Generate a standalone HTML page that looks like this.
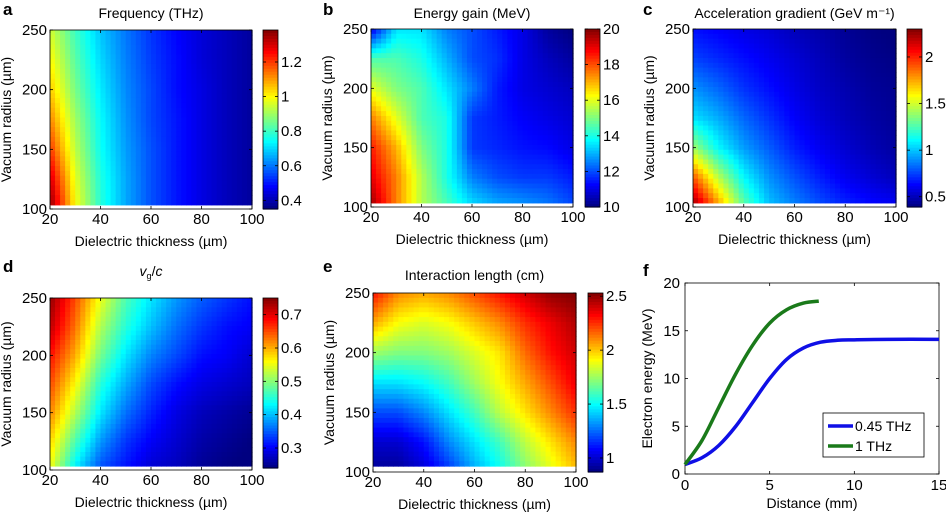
<!DOCTYPE html>
<html><head><meta charset="utf-8"><style>
body{margin:0;background:#fff;}
svg{display:block;font-family:"Liberation Sans",sans-serif;}
</style></head><body>
<svg id="fig" width="946" height="513" viewBox="0 0 946 513" xmlns="http://www.w3.org/2000/svg"></svg>
<script>
// ---- data ----
const xCats = [20,30,40,50,60,70,80,90,100];
const yCats = [250,225,200,175,150,125,100];
const freqVals = [
 [0.95,0.8,0.68,0.6,0.53,0.48,0.44,0.41,0.38],
 [1.0,0.83,0.7,0.61,0.54,0.49,0.44,0.41,0.38],
 [1.05,0.86,0.72,0.62,0.55,0.49,0.45,0.41,0.38],
 [1.12,0.9,0.74,0.63,0.55,0.5,0.45,0.41,0.38],
 [1.2,0.93,0.75,0.64,0.56,0.5,0.45,0.41,0.38],
 [1.3,0.97,0.77,0.65,0.56,0.5,0.45,0.41,0.38],
 [1.38,1.0,0.78,0.65,0.56,0.5,0.45,0.41,0.38]];
const gainVals = [
 [11,13.5,13.5,12.5,12,11.5,11,10.3,10],
 [14.5,14.5,14,13,12,11.7,11,10.6,10.3],
 [16,15,14.5,13.5,12.5,11.5,11,10.8,10.6],
 [17.5,16,14.5,14,11.8,11.5,11.2,11,10.8],
 [18.5,17,15,14,11.8,11.6,11.4,11.3,11],
 [19,17.5,15.5,14,12.5,12,11.8,11.8,11.5],
 [19.8,17.5,15.5,14.5,13.5,13,12.8,12.5,12]];
const gradVals = [
 [0.65,0.62,0.58,0.55,0.5,0.47,0.43,0.4,0.38],
 [0.75,0.7,0.65,0.6,0.55,0.5,0.45,0.42,0.4],
 [0.9,0.82,0.72,0.65,0.58,0.52,0.48,0.44,0.42],
 [1.05,0.95,0.82,0.72,0.62,0.55,0.5,0.46,0.43],
 [1.4,1.1,0.92,0.8,0.68,0.6,0.54,0.49,0.45],
 [1.9,1.45,1.1,0.9,0.78,0.68,0.6,0.55,0.5],
 [2.3,1.8,1.3,1.0,0.88,0.78,0.7,0.65,0.62]];
const vgVals = [
 [0.74,0.65,0.55,0.47,0.42,0.38,0.35,0.33,0.31],
 [0.72,0.63,0.52,0.45,0.4,0.36,0.33,0.31,0.3],
 [0.68,0.6,0.49,0.42,0.37,0.34,0.31,0.3,0.28],
 [0.65,0.56,0.45,0.39,0.34,0.31,0.29,0.28,0.27],
 [0.62,0.52,0.42,0.36,0.32,0.29,0.27,0.26,0.25],
 [0.58,0.47,0.38,0.33,0.3,0.28,0.26,0.25,0.24],
 [0.55,0.42,0.34,0.31,0.28,0.27,0.25,0.24,0.235]];
const lenVals = [
 [2.3,2.1,2.05,2.1,2.2,2.3,2.4,2.5,2.53],
 [2.05,1.9,1.85,1.9,2.0,2.1,2.25,2.35,2.45],
 [1.75,1.7,1.7,1.75,1.85,1.95,2.15,2.3,2.4],
 [1.45,1.45,1.5,1.6,1.75,1.9,2.05,2.2,2.35],
 [1.2,1.2,1.3,1.45,1.6,1.8,1.95,2.1,2.25],
 [1.0,1.0,1.1,1.3,1.45,1.6,1.8,1.95,2.1],
 [0.9,0.9,1.0,1.15,1.35,1.5,1.7,1.85,2.0]];
const freqTicks = [0.4,0.6,0.8,1,1.2];
const gainTicks = [10,12,14,16,18,20];
const gradTicks = [0.5,1,1.5,2];
const vgTicks = [0.3,0.4,0.5,0.6,0.7];
const lenTicks = [1,1.5,2,2.5];
const xTicks = [20,40,60,80,100];
const yTicks = [100,150,200,250];
const distX = [0,1,2,3,4,5,6,7,8,9,10,12,15];
const energyLow = [1,1.7,3,5,7.5,10,12,13.2,13.8,14,14.05,14.1,14.1];
const distX2 = [0,1,2,3,4,5,6,7,7.9];
const energyHigh = [1,3.5,7,10.5,13.5,15.8,17.2,17.9,18.1];
const fXTicks = [0,5,10,15];
const fYTicks = [0,5,10,15,20];

const NS='http://www.w3.org/2000/svg';
const svg=document.getElementById('fig');
function mk(tag,attrs,parent){const e=document.createElementNS(NS,tag);for(const k in attrs)e.setAttribute(k,attrs[k]);(parent||svg).appendChild(e);return e;}
function txt(x,y,s,size,anchor,parent,extra){const t=mk('text',Object.assign({x:x,y:y,'font-size':size,'text-anchor':anchor||'middle',fill:'#000'},extra||{}),parent);t.textContent=s;return t;}
function jet(t){t=Math.max(0,Math.min(1,t));const c=v=>Math.round(255*Math.max(0,Math.min(1,1.5-Math.abs(v))));return `rgb(${c(4*t-3)},${c(4*t-2)},${c(4*t-1)})`;}
function sample(vals,xv,yv){
  let fx=(xv-20)/10, fy=(250-yv)/25;
  fx=Math.max(0,Math.min(8,fx)); fy=Math.max(0,Math.min(6,fy));
  const i0=Math.min(7,Math.floor(fx)), j0=Math.min(5,Math.floor(fy));
  const tx=fx-i0, ty=fy-j0;
  const a=vals[j0][i0],b=vals[j0][i0+1],c=vals[j0+1][i0],d=vals[j0+1][i0+1];
  return a*(1-tx)*(1-ty)+b*tx*(1-ty)+c*(1-tx)*ty+d*tx*ty;
}
function heatPanel(o){
  const g=mk('g',{});
  
  
  const {x0,x1,y0,y1,vmin,vmax}=o;
  const sx=v=>x0+(v-20)/80*(x1-x0);
  const sy=v=>y1-(v-100)/150*(y1-y0);
  const nx=40, ny=36, yb=o.heatBottom;
  for(let i=0;i<nx;i++){for(let j=0;j<ny;j++){
    const xa=20+80*i/nx, xb=20+80*(i+1)/nx;
    const ya=250-(250-yb)*j/ny, yb2=250-(250-yb)*(j+1)/ny;
    const v=sample(o.vals,(xa+xb)/2,(ya+yb2)/2);
    const r=mk('rect',{x:sx(xa).toFixed(2),y:sy(ya).toFixed(2),width:(sx(xb)-sx(xa)+0.6).toFixed(2),height:(sy(yb2)-sy(ya)+0.6).toFixed(2),fill:jet((v-vmin)/(vmax-vmin))},g);
    
    
  }}
  mk('rect',{x:x0,y:y0,width:x1-x0,height:y1-y0,fill:'none',stroke:'#000','stroke-width':0.8},g);
  xTicks.forEach(t=>{const X=sx(t);mk('line',{x1:X,x2:X,y1:y1,y2:y1-3,stroke:'#000','stroke-width':0.8},g);mk('line',{x1:X,x2:X,y1:y0,y2:y0+3,stroke:'#000','stroke-width':0.8},g);
    const l=txt(X,y1+15,String(t),15,'middle',g);});
  yTicks.forEach(t=>{const Y=sy(t);mk('line',{x1:x0,x2:x0+3,y1:Y,y2:Y,stroke:'#000','stroke-width':0.8},g);mk('line',{x1:x1,x2:x1-3,y1:Y,y2:Y,stroke:'#000','stroke-width':0.8},g);
    const l=txt(x0-3,Y+5,String(t),15,'end',g);});
  const xl=txt((x0+x1)/2,y1+37,'Dielectric thickness (µm)',14,'middle',g);
  
  const yl=txt(0,0,'Vacuum radius (µm)',14,'middle',g,{transform:`translate(${x0-39},${(y0+y1)/2}) rotate(-90)`});
  
  const cx=o.cbx, cw=15, cy0=o.cby0, cy1=o.cby1;
  const cb=mk('g',{},g);
  
  const n=60;
  for(let k=0;k<n;k++){const yA=cy0+(cy1-cy0)*k/n;mk('rect',{x:cx,y:yA.toFixed(2),width:cw,height:((cy1-cy0)/n+0.6).toFixed(2),fill:jet(1-(k+0.5)/n)},cb);}
  mk('rect',{x:cx,y:cy0,width:cw,height:cy1-cy0,fill:'none',stroke:'#000','stroke-width':0.8},cb);
  o.ticks.forEach(t=>{const Y=cy1-(t-vmin)/(vmax-vmin)*(cy1-cy0);
    mk('line',{x1:cx,x2:cx+3,y1:Y,y2:Y,stroke:'#000','stroke-width':0.8},cb);mk('line',{x1:cx+cw,x2:cx+cw-3,y1:Y,y2:Y,stroke:'#000','stroke-width':0.8},cb);
    const l=txt(cx+cw+3,Y+5,String(t),15,'start',cb);});
  const tt=txt((x0+x1)/2,o.titleY,o.title,14,'middle',g);
  
  if(o.titleHTML){tt.textContent='';tt.innerHTML=o.titleHTML;}
  const pl=txt(o.lx,o.ly,o.letter,17,'start',g,{'font-weight':'bold'});
  
}
heatPanel({name:'panel-a-frequency',vals:freqVals,x0:50,x1:252,y0:30,y1:209,heatBottom:103.5,vmin:0.35,vmax:1.385,cbx:263,cby0:30,cby1:209,ticks:freqTicks,title:'Frequency (THz)',titleY:18,letter:'a',lx:3,ly:15});
heatPanel({name:'panel-b-energy-gain',vals:gainVals,x0:371,x1:573,y0:29,y1:207,heatBottom:103.5,vmin:10,vmax:20,cbx:585,cby0:29,cby1:207,ticks:gainTicks,title:'Energy gain (MeV)',titleY:18,letter:'b',lx:323,ly:15});
heatPanel({name:'panel-c-acceleration-gradient',vals:gradVals,x0:693,x1:896,y0:29,y1:207,heatBottom:103.5,vmin:0.39,vmax:2.3,cbx:907,cby0:29,cby1:207,ticks:gradTicks,title:'Acceleration gradient (GeV m⁻¹)',titleY:18,letter:'c',lx:643,ly:15});
heatPanel({name:'panel-d-group-velocity',vals:vgVals,x0:50,x1:252,y0:298,y1:470,heatBottom:103.5,vmin:0.24,vmax:0.75,cbx:263,cby0:298,cby1:468,ticks:vgTicks,title:'',titleHTML:'<tspan font-style="italic">v</tspan><tspan font-size="9" dy="3">g</tspan><tspan dy="-3">/</tspan><tspan font-style="italic">c</tspan>',titleY:276,letter:'d',lx:3,ly:272});
heatPanel({name:'panel-e-interaction-length',vals:lenVals,x0:373,x1:576,y0:293,y1:472,heatBottom:105,vmin:0.87,vmax:2.53,cbx:588,cby0:293,cby1:472,ticks:lenTicks,title:'Interaction length (cm)',titleY:280,letter:'e',lx:323,ly:272});

// panel f
(function(){
  const g=mk('g',{});
  
  
  const x0=685,x1=939,y0=283,y1=474;
  const sx=v=>x0+v/15*(x1-x0), sy=v=>y1-v/20*(y1-y0);
  mk('rect',{x:x0,y:y0,width:x1-x0,height:y1-y0,fill:'#fff',stroke:'#000','stroke-width':0.8},g);
  fXTicks.forEach(t=>{const X=sx(t);mk('line',{x1:X,x2:X,y1:y1,y2:y1-3,stroke:'#000','stroke-width':0.8},g);mk('line',{x1:X,x2:X,y1:y0,y2:y0+3,stroke:'#000','stroke-width':0.8},g);
    const l=txt(X,y1+16,String(t),15,'middle',g);});
  fYTicks.forEach(t=>{const Y=sy(t);mk('line',{x1:x0,x2:x0+3,y1:Y,y2:Y,stroke:'#000','stroke-width':0.8},g);mk('line',{x1:x1,x2:x1-3,y1:Y,y2:Y,stroke:'#000','stroke-width':0.8},g);
    const l=txt(x0-5,Y+5,String(t),15,'end',g);});
  const pts=(xs,ys)=>{const p=xs.map((x,i)=>[sx(x),sy(ys[i])]);let d='M'+p[0][0]+','+p[0][1];
    for(let i=0;i<p.length-1;i++){const p0=p[i-1]||p[i],p1=p[i],p2=p[i+1],p3=p[i+2]||p2;
      d+=` C${p1[0]+(p2[0]-p0[0])/6},${p1[1]+(p2[1]-p0[1])/6} ${p2[0]-(p3[0]-p1[0])/6},${p2[1]-(p3[1]-p1[1])/6} ${p2[0]},${p2[1]}`;}return d;};
  const l1=mk('path',{d:pts(distX,energyLow),fill:'none',stroke:'#0f0fe6','stroke-width':3.5},g);
  
  const l2=mk('path',{d:pts(distX2,energyHigh),fill:'none',stroke:'#1a7a1a','stroke-width':3.5},g);
  
  const lg=mk('g',{},g);
  
  mk('rect',{x:823,y:413,width:101,height:44,fill:'#fff',stroke:'#000','stroke-width':0.8},lg);
  mk('line',{x1:828,x2:853,y1:426,y2:426,stroke:'#0f0fe6','stroke-width':3.5},lg);
  mk('line',{x1:828,x2:853,y1:446,y2:446,stroke:'#1a7a1a','stroke-width':3.5},lg);
  const e1=txt(855,431,'0.45 THz',14,'start',lg);
  const e2=txt(855,451,'1 THz',14,'start',lg);
  const xl=txt((x0+x1)/2,508,'Distance (mm)',14,'middle',g);
  const yl=txt(0,0,'Electron energy (MeV)',14,'middle',g,{transform:`translate(${x0-33},${(y0+y1)/2}) rotate(-90)`});
  
  const pl=txt(643,276,'f',17,'start',g,{'font-weight':'bold'});
})();
</script>
</body></html>
